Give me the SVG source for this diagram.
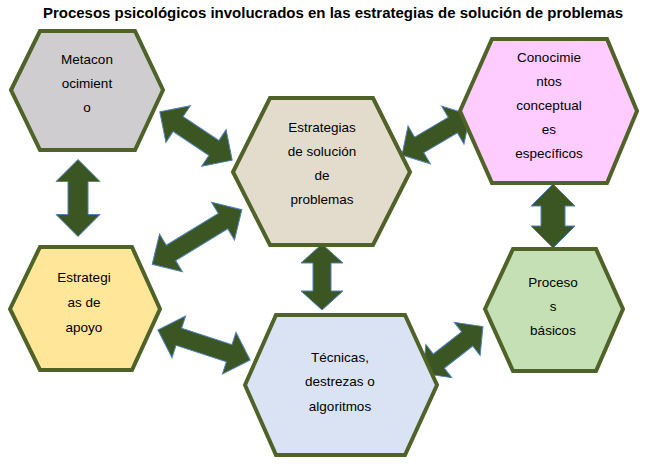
<svg xmlns="http://www.w3.org/2000/svg" width="667" height="472" viewBox="0 0 667 472">
<style>
.hex{stroke:#4f6228;stroke-width:4}
.t{font-family:"Liberation Sans",Arial,sans-serif;font-size:13.5px;fill:#000;text-anchor:middle}
.ar{fill:#3b5623;stroke:#4f81bd;stroke-width:1}
</style>
<rect width="667" height="472" fill="#fff"/>
<text x="333" y="18" style="font-family:'Liberation Sans',Arial,sans-serif;font-size:15px;font-weight:bold;text-anchor:middle">Procesos psicológicos involucrados en las estrategias de solución de problemas</text>
<g id="connectors">
<path class="ar" transform="translate(196,136) rotate(33.7)" d="M-43.5 0 L-21.5 -22 L-21.5 -9 L21.5 -9 L21.5 -22 L43.5 0 L21.5 22 L21.5 9 L-21.5 9 L-21.5 22 Z"/>
<path class="ar" transform="translate(78,198) rotate(90)" d="M-38.5 0 L-16.5 -22 L-16.5 -10 L16.5 -10 L16.5 -22 L38.5 0 L16.5 22 L16.5 10 L-16.5 10 L-16.5 22 Z"/>
<path class="ar" transform="translate(436,135) rotate(-30.5)" d="M-39.5 0 L-19.5 -22 L-19.5 -9 L19.5 -9 L19.5 -22 L39.5 0 L19.5 22 L19.5 9 L-19.5 9 L-19.5 22 Z"/>
<path class="ar" transform="translate(553,216) rotate(90)" d="M-32 0 L-10 -22 L-10 -12 L10 -12 L10 -22 L32 0 L10 22 L10 12 L-10 12 L-10 22 Z"/>
<path class="ar" transform="translate(197,237) rotate(-31.4)" d="M-52.5 0 L-30.5 -22 L-30.5 -9 L30.5 -9 L30.5 -22 L52.5 0 L30.5 22 L30.5 9 L-30.5 9 L-30.5 22 Z"/>
<path class="ar" transform="translate(322,277) rotate(90)" d="M-33 0 L-14 -21 L-14 -9 L14 -9 L14 -21 L33 0 L14 21 L14 9 L-14 9 L-14 21 Z"/>
<path class="ar" transform="translate(204,345) rotate(18)" d="M-48.5 0 L-26.5 -22 L-26.5 -9 L26.5 -9 L26.5 -22 L48.5 0 L26.5 22 L26.5 9 L-26.5 9 L-26.5 22 Z"/>
<path class="ar" transform="translate(453,350) rotate(-38)" d="M-38 0 L-18 -21 L-18 -9 L18 -9 L18 -21 L38 0 L18 21 L18 9 L-18 9 L-18 21 Z"/>
</g>
<g id="metaconocimiento">
<polygon class="hex" fill="#cfcdcf" points="11,90 40,31 135,31 163,90 135,150 40,150"/>
<text class="t" x="87" y="64">Metacon</text><text class="t" x="87" y="88">ocimient</text><text class="t" x="87" y="112">o</text>
</g>
<g id="estrategias">
<polygon class="hex" fill="#e3dccd" points="233,172 270,98 373,98 410,172 373,245 270,245"/>
<text class="t" x="322" y="132">Estrategias</text><text class="t" x="322" y="156">de solución</text><text class="t" x="322" y="180">de</text><text class="t" x="322" y="204">problemas</text>
</g>
<g id="conocimientos">
<polygon class="hex" fill="#ffccff" points="460,111 492,39 607,39 637,111 607,183 492,183"/>
<text class="t" x="549" y="62">Conocimie</text><text class="t" x="549" y="86">ntos</text><text class="t" x="549" y="110">conceptual</text><text class="t" x="549" y="134">es</text><text class="t" x="549" y="158">específicos</text>
</g>
<g id="apoyo">
<polygon class="hex" fill="#ffe699" points="10,309 40,247 132,247 160,309 132,370 40,370"/>
<text class="t" x="84" y="282">Estrategi</text><text class="t" x="84" y="307">as de</text><text class="t" x="84" y="332">apoyo</text>
</g>
<g id="procesos">
<polygon class="hex" fill="#c5e0b4" points="485,309 513,249 596,249 623,309 596,371 513,371"/>
<text class="t" x="553" y="287">Proceso</text><text class="t" x="553" y="311">s</text><text class="t" x="553" y="335">básicos</text>
</g>
<g id="tecnicas">
<polygon class="hex" fill="#dae3f3" points="245,385 276,315 405,315 437,385 405,455 276,455"/>
<text class="t" x="340" y="362">Técnicas,</text><text class="t" x="340" y="386">destrezas o</text><text class="t" x="340" y="411">algoritmos</text>
</g>
</svg>
